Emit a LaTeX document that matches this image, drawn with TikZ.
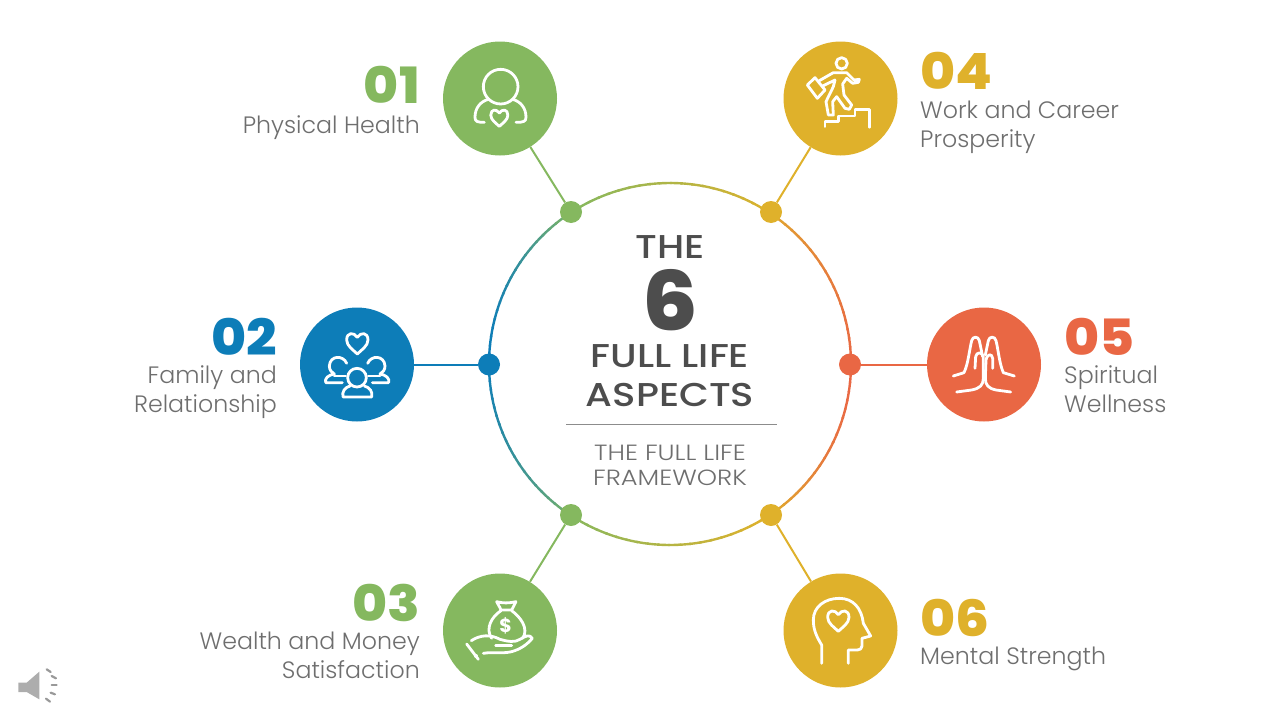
\documentclass[tikz,border=0pt]{standalone}
\usepackage{fontspec}
\setmainfont{Poppins}
\newfontfamily\lightfont{Poppins Light}
\newfontfamily\heavyfont[FakeStretch=1.07]{Poppins ExtraBold}
\newfontfamily\headfont[FakeStretch=1.17]{Poppins Medium}
\newfontfamily\framefont[FakeStretch=1.17]{Poppins Light}
\usepackage{tikz}
\definecolor{cgreen}{HTML}{85B85F}
\definecolor{cgold}{HTML}{DFB12B}
\definecolor{cblue}{HTML}{0D7DB8}
\definecolor{corange}{HTML}{E96744}
\definecolor{cdark}{HTML}{4D4D4D}
\definecolor{ctext}{HTML}{6E6E6E}
\tikzset{
  heart/.pic={
    \draw[iconline] (0,-16) .. controls (-10,-32) and (-32,-32) .. (-32,-8)
      .. controls (-32,10) and (-12,22) .. (0,34)
      .. controls (12,22) and (32,10) .. (32,-8)
      .. controls (32,-32) and (10,-32) .. (0,-16) -- cycle;
  }
}
\begin{document}
\begin{tikzpicture}
[x=1pt,y=-1pt,%
  disc/.style={shape=circle,minimum size=114pt,inner sep=0pt},%
  hub/.style={shape=circle,minimum size=22pt,inner sep=0pt},%
  spoke/.style={line width=2pt},%
  ring/.style={line width=2.4pt},%
  iconline/.style={draw=white,line width=2.8pt,line cap=round,line join=round},%
  numlabel/.style={font=\fontsize{50}{50}\selectfont\heavyfont,inner sep=0pt},%
  textlabel/.style={font=\fontsize{23.7}{28.5}\selectfont\lightfont,text=ctext,inner sep=0pt},%
  headlabel/.style={anchor=base,inner sep=0pt,text=cdark,font=\fontsize{33}{33}\selectfont\headfont},%
  framelabel/.style={anchor=base,inner sep=0pt,text=ctext,font=\fontsize{22}{22}\selectfont\framefont}]
\useasboundingbox (0,0) rectangle (1280,720);
% ring
\foreach \ca/\cb/\from/\to/\g in {cgreen/cgold/-123.6/-56.4/1, cgold/corange/-56.4/0/0.5,
    corange/cgold/0/56.4/2, cgold/cgreen/56.4/123.6/1, cgreen/cblue/123.6/180/0.5, cblue/cgreen/180/236.4/2}
  \foreach \t in {0,5,...,95}{
    \pgfmathsetmacro\s{\from+(\to-\from)*\t/100}
    \pgfmathsetmacro\d{(\to-\from)*0.06}
    \pgfmathsetmacro\m{100*(max(\t,0.1)/100)^\g}
    \draw[ring,draw=\cb!\m!\ca] ([shift={(670,364)}]\s:181) arc[start angle=\s,delta angle=\d,radius=181];
  }
% discs and hubs
\node[disc,fill=cgreen] (disc1) at (500,98.5) {};
\node[disc,fill=cblue] (disc2) at (357,364.5) {};
\node[disc,fill=cgreen] (disc3) at (500,630.5) {};
\node[disc,fill=cgold] (disc4) at (840.5,98.5) {};
\node[disc,fill=corange] (disc5) at (984,364.5) {};
\node[disc,fill=cgold] (disc6) at (840.5,630.5) {};
\node[hub,fill=cgreen] (hub1) at (571,212) {};
\node[hub,fill=cblue] (hub2) at (489,364.5) {};
\node[hub,fill=cgreen] (hub3) at (571,515) {};
\node[hub,fill=cgold] (hub4) at (771,212) {};
\node[hub,fill=corange] (hub5) at (850,364.5) {};
\node[hub,fill=cgold] (hub6) at (771,515) {};
\foreach \i/\c in {1/cgreen,2/cblue,3/cgreen,4/cgold,5/corange,6/cgold}
  \draw[spoke,\c] (disc\i) -- (hub\i);
% numbers and labels
\node[numlabel,text=cgreen,anchor=base east] (num1) at (420,103.5) {01};
\node[numlabel,text=cblue,anchor=base east] (num2) at (277,355) {02};
\node[numlabel,text=cgreen,anchor=base east] (num3) at (420,621) {03};
\node[numlabel,text=cgold,anchor=base west] (num4) at (920,89) {04};
\node[numlabel,text=corange,anchor=base west] (num5) at (1064,355) {05};
\node[numlabel,text=cgold,anchor=base west] (num6) at (920,636) {06};
\node[textlabel,anchor=base east] (label1) at (420,133) {Physical Health};
\node[textlabel,anchor=base east,align=right] (label2) at (277,412) {Family and\\Relationship};
\node[textlabel,anchor=base east,align=right] (label3) at (420,678) {Wealth and Money\\Satisfaction};
\node[textlabel,anchor=base west,align=left] (label4) at (920,147) {Work and Career\\Prosperity};
\node[textlabel,anchor=base west,align=left] (label5) at (1064,412) {Spiritual\\Wellness};
\node[textlabel,anchor=base west] (label6) at (920,664) {Mental Strength};
% centre
\node[headlabel] (the) at (670,258) {THE};
\node[anchor=base,inner sep=0pt,text=cdark,font=\fontsize{82}{82}\selectfont\heavyfont] (six) at (670,330) {6};
\node[headlabel] (full) at (670,367) {FULL LIFE};
\node[headlabel] (aspects) at (670,406) {ASPECTS};
\coordinate (ruleleft) at (566,424.5);
\coordinate (ruleright) at (777,424.5);
\draw[line width=1.2pt,color=black!45] (ruleleft) -- (ruleright);
\node[framelabel] (frame1) at (670,460) {THE FULL LIFE};
\node[framelabel] (frame2) at (670,485) {FRAMEWORK};
% person
\begin{scope}[shift={(440,30)},scale=0.3333]
  \draw[iconline] (182,170) circle[radius=52];
  \draw[iconline] (145,208) .. controls (120,215) and (105,235) .. (105,262)
    .. controls (105,275) and (112,277) .. (133,277);
  \draw[iconline] (218,208) .. controls (243,215) and (258,235) .. (258,262)
    .. controls (258,275) and (250,277) .. (228,277);
  \pic[transform shape,scale=0.8] at (178,262) {heart};
\end{scope}
% family
\begin{scope}[shift={(295,300)},scale=0.3333]
  \pic[transform shape] at (187,128) {heart};
  \draw[iconline] (155,190) .. controls (145,165) and (105,165) .. (103,198)
    .. controls (103,210) and (110,218) .. (118,222)
    .. controls (100,225) and (88,235) .. (92,248) -- (142,248);
  \draw[iconline] (118,228) -- (152,228);
  \draw[iconline] (218,190) .. controls (228,165) and (268,165) .. (270,198)
    .. controls (270,210) and (263,218) .. (255,222)
    .. controls (273,225) and (285,235) .. (281,248) -- (232,248);
  \draw[iconline] (255,228) -- (220,228);
  \draw[iconline] (186,233) circle[radius=28];
  \draw[iconline] (165,258) .. controls (150,262) and (140,275) .. (144,291) -- (230,291)
    .. controls (234,275) and (224,262) .. (208,258);
\end{scope}
% money
\begin{scope}[shift={(440,570)},scale=0.3333]
  \draw[iconline] (183,120) .. controls (178,108) and (172,100) .. (170,95)
    .. controls (190,100) and (205,100) .. (228,95)
    .. controls (224,105) and (218,112) .. (215,120) -- cycle;
  \draw[iconline] (183,122) .. controls (155,140) and (135,175) .. (155,205);
  \draw[iconline] (215,122) .. controls (240,140) and (268,175) .. (248,205);
  \node[text=white,inner sep=0pt,font=\fontsize{19}{19}\selectfont\bfseries] (dollar) at (197,168) {\$};
  \draw[iconline] (80,222) -- (115,268);
  \fill[white] (108,258) circle[radius=6];
  \draw[iconline] (94,212) .. controls (120,195) and (150,192) .. (180,208)
    .. controls (205,215) and (225,218) .. (240,208)
    .. controls (255,198) and (270,192) .. (277,205)
    .. controls (260,225) and (240,238) .. (215,245)
    .. controls (185,252) and (160,245) .. (130,250);
  \draw[iconline] (167,227) -- (215,227);
\end{scope}
% career
\begin{scope}[shift={(780,30)},scale=0.3333]
  \draw[iconline] (185,100) circle[radius=17];
  \draw[iconline] (82,165) -- (105,143) -- (135,180) -- (112,205) -- cycle;
  \draw[iconline] (118,152) -- (160,128) -- (200,128) -- (222,150) -- (238,148) -- (235,157) -- (218,160)
    -- (200,145) -- (188,162) -- (192,195) -- (215,225) -- (208,238) -- (195,235) -- (170,200)
    -- (158,215) -- (160,255) -- (145,255) -- (138,215) -- (160,170) -- (165,150) -- (128,168);
  \draw[iconline] (135,290) -- (135,275) -- (175,275) -- (175,258) -- (225,258) -- (225,238)
    -- (268,238) -- (268,292);
\end{scope}
% hands
\begin{scope}[shift={(920,300)},scale=0.3333]
  \draw[iconline] (100,228) -- (132,218) .. controls (145,190) and (148,150) .. (155,122)
    .. controls (158,108) and (175,108) .. (178,122) -- (188,170);
  \draw[iconline] (110,276) -- (155,270) .. controls (180,265) and (190,255) .. (190,235)
    -- (190,170) .. controls (186,155) and (170,155) .. (167,170) -- (165,205);
  \draw[iconline] (283,228) -- (250,218) .. controls (238,190) and (235,150) .. (228,122)
    .. controls (225,108) and (208,108) .. (205,122) -- (196,165);
  \draw[iconline] (272,276) -- (228,270) .. controls (205,265) and (196,255) .. (196,235)
    -- (198,180) .. controls (202,160) and (216,160) .. (218,175) -- (218,205);
\end{scope}
% mind
\begin{scope}[shift={(780,570)},scale=0.3333]
  \draw[iconline] (125,280) -- (125,225) .. controls (110,200) and (100,180) .. (100,150)
    .. controls (100,110) and (135,85) .. (178,85)
    .. controls (220,85) and (245,115) .. (250,160) -- (272,198) -- (246,205) -- (246,228)
    .. controls (246,236) and (240,240) .. (232,240) -- (205,240) -- (205,280);
  \pic[transform shape] at (175,150) {heart};
\end{scope}
% speaker
\begin{scope}[shift={(10,660)},scale=0.3333]
  \fill[black!32] (25,68) -- (50,68) -- (88,35) -- (88,118) -- (50,96) -- (25,96) -- cycle;
  \foreach \p/\q/\r/\u in {110/28/122/36,125/48/138/55,125/74/140/74,122/98/135/103,108/116/120/125}
    \draw[black!40,line width=2.2pt,line cap=round] (\p,\q) -- (\r,\u);
\end{scope}
\end{tikzpicture}
\end{document}
